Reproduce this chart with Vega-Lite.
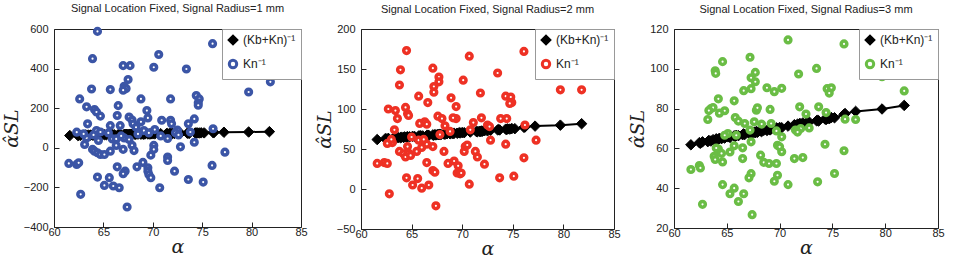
{
  "$schema": "https://vega.github.io/schema/vega-lite/v6.json",
  "background": "white",
  "padding": {"left": 1, "top": 2, "right": 5, "bottom": 2},
  "config": {
    "font": "Liberation Sans",
    "view": {"stroke": "#222", "strokeWidth": 1},
    "axis": {"labelFont": "Liberation Sans", "labelFontSize": 11, "labelColor": "#222", "tickColor": "#222", "domain": false, "grid": false, "tickSize": -5, "labelPadding": 4, "labelOverlap": false, "labelBound": false, "labelFlush": false, "tickCount": 12, "titleFont": "DejaVu Serif", "titleFontStyle": "italic", "titleFontWeight": "normal", "titleFontSize": 19, "titleColor": "#222", "titlePadding": 0},
    "title": {"font": "Liberation Sans", "fontSize": 11, "fontWeight": "normal", "color": "#222", "offset": 8},
    "legend": {"orient": "top-right", "offset": 0, "fillColor": "white", "strokeColor": "#999", "padding": 5, "labelFont": "Liberation Sans", "labelFontSize": 12, "labelColor": "#222", "symbolSize": 55, "symbolStrokeWidth": 3, "rowPadding": 4, "symbolOpacity": 1}
  },
  "datasets": {
    "dia": [
      {"a":61.6,"v":61.8},{"a":62.4,"v":62.9},{"a":62.5,"v":62.6},{"a":62.7,"v":63.3},{"a":63.2,"v":63.4},{"a":63.3,"v":64.0},{"a":63.5,"v":63.7},{"a":63.7,"v":64.4},{"a":63.9,"v":64.1},{"a":64.0,"v":64.8},{"a":64.2,"v":64.5},{"a":64.3,"v":65.1},{"a":64.5,"v":64.9},{"a":64.6,"v":65.4},{"a":64.8,"v":65.2},{"a":65.1,"v":65.8},{"a":65.3,"v":65.5},{"a":65.7,"v":66.3},{"a":65.8,"v":66.0},{"a":65.9,"v":66.6},{"a":66.1,"v":66.4},{"a":66.5,"v":66.9},{"a":66.6,"v":67.3},{"a":66.7,"v":67.0},{"a":67.1,"v":67.6},{"a":67.2,"v":67.3},{"a":67.3,"v":67.9},{"a":67.4,"v":67.6},{"a":67.6,"v":68.2},{"a":67.7,"v":67.9},{"a":67.8,"v":68.5},{"a":67.9,"v":68.1},{"a":68.2,"v":68.8},{"a":68.3,"v":68.5},{"a":68.5,"v":69.1},{"a":68.8,"v":69.0},{"a":69.0,"v":69.6},{"a":69.1,"v":69.3},{"a":69.2,"v":69.8},{"a":69.5,"v":69.7},{"a":69.7,"v":70.3},{"a":69.8,"v":70.0},{"a":70.0,"v":70.5},{"a":70.2,"v":70.4},{"a":70.8,"v":71.2},{"a":71.4,"v":71.9},{"a":71.5,"v":71.6},{"a":71.7,"v":72.2},{"a":71.8,"v":72.0},{"a":71.9,"v":72.5},{"a":72.0,"v":72.3},{"a":72.2,"v":72.8},{"a":72.5,"v":72.7},{"a":72.8,"v":73.3},{"a":73.5,"v":73.9},{"a":73.6,"v":74.2},{"a":73.7,"v":73.8},{"a":74.3,"v":74.8},{"a":74.4,"v":74.5},{"a":74.5,"v":75.1},{"a":74.7,"v":74.9},{"a":74.9,"v":75.5},{"a":75.2,"v":75.4},{"a":76.1,"v":77.1},{"a":76.2,"v":77.5},{"a":77.2,"v":78.6},{"a":79.7,"v":79.8},{"a":81.8,"v":81.6}
    ],
    "blue": [
      {"a":64.4,"v":588},{"a":76.05,"v":526},{"a":63.9,"v":450},{"a":70.6,"v":471},{"a":67.0,"v":415},{"a":67.7,"v":415},{"a":70.1,"v":407},{"a":73.4,"v":398},{"a":67.5,"v":345},{"a":67.1,"v":311},{"a":67.3,"v":299},{"a":67.0,"v":291},{"a":63.8,"v":297},{"a":65.7,"v":294},{"a":79.7,"v":282},{"a":81.9,"v":333},{"a":62.6,"v":247},{"a":68.8,"v":247},{"a":71.8,"v":247},{"a":74.4,"v":264},{"a":74.7,"v":247},{"a":74.6,"v":227},{"a":74.6,"v":215},{"a":63.3,"v":207},{"a":64.1,"v":193},{"a":64.3,"v":181},{"a":66.5,"v":213},{"a":64.7,"v":160},{"a":69.4,"v":188},{"a":66.4,"v":163},{"a":67.6,"v":155},{"a":67.9,"v":140},{"a":69.5,"v":151},{"a":68.8,"v":131},{"a":68.0,"v":121},{"a":70.9,"v":139},{"a":71.8,"v":139},{"a":71.9,"v":121},{"a":74.2,"v":146},{"a":73.6,"v":121},{"a":63.4,"v":121},{"a":65.7,"v":112},{"a":66.7,"v":112},{"a":68.3,"v":104},{"a":64.3,"v":87},{"a":64.7,"v":80},{"a":62.3,"v":79},{"a":76.1,"v":96},{"a":69.1,"v":87},{"a":72.5,"v":89},{"a":72.3,"v":76},{"a":70.2,"v":92},{"a":63.3,"v":50},{"a":65.9,"v":45},{"a":66.3,"v":45},{"a":67.1,"v":50},{"a":67.6,"v":42},{"a":64.5,"v":37},{"a":71.5,"v":47},{"a":63.1,"v":17},{"a":63.9,"v":-8},{"a":64.1,"v":-17},{"a":64.4,"v":-25},{"a":64.7,"v":-34},{"a":65.1,"v":-34},{"a":65.7,"v":-17},{"a":66.3,"v":12},{"a":67.0,"v":-8},{"a":67.9,"v":13},{"a":68.1,"v":-14},{"a":70.1,"v":12},{"a":70.1,"v":-8},{"a":69.8,"v":-37},{"a":72.8,"v":5},{"a":74.2,"v":28},{"a":71.5,"v":-47},{"a":71.5,"v":-64},{"a":77.3,"v":-22},{"a":61.5,"v":-79},{"a":62.3,"v":-84},{"a":62.5,"v":-76},{"a":66.4,"v":-96},{"a":67.2,"v":-118},{"a":67.0,"v":-131},{"a":68.4,"v":-96},{"a":69.0,"v":-74},{"a":69.5,"v":-101},{"a":69.5,"v":-118},{"a":69.6,"v":-135},{"a":69.8,"v":-151},{"a":72.2,"v":-118},{"a":76.0,"v":-89},{"a":64.4,"v":-148},{"a":65.6,"v":-151},{"a":65.1,"v":-190},{"a":66.0,"v":-193},{"a":66.6,"v":-202},{"a":70.7,"v":-202},{"a":73.6,"v":-160},{"a":75.1,"v":-173},{"a":62.7,"v":-235},{"a":67.4,"v":-299},{"a":63.0,"v":70},{"a":64.0,"v":65},{"a":65.5,"v":75},{"a":66.8,"v":60},{"a":68.5,"v":70},{"a":69.6,"v":75},{"a":70.8,"v":60},{"a":72.6,"v":65},{"a":73.8,"v":80}
    ],
    "red": [
      {"a":64.5,"v":173},{"a":70.7,"v":166},{"a":76.1,"v":172},{"a":67.1,"v":151},{"a":63.9,"v":149},{"a":73.5,"v":145},{"a":70.1,"v":136},{"a":63.8,"v":130},{"a":67.7,"v":140},{"a":67.7,"v":134},{"a":67.2,"v":128},{"a":67.2,"v":121},{"a":71.8,"v":120},{"a":79.7,"v":124},{"a":81.8,"v":124},{"a":62.7,"v":100},{"a":63.4,"v":98},{"a":63.6,"v":88},{"a":64.4,"v":102},{"a":64.6,"v":94},{"a":64.7,"v":92},{"a":65.7,"v":116},{"a":66.6,"v":108},{"a":68.9,"v":114},{"a":69.4,"v":103},{"a":69.4,"v":88},{"a":69.1,"v":89},{"a":67.6,"v":91},{"a":68.0,"v":88},{"a":68.3,"v":79},{"a":65.8,"v":82},{"a":66.3,"v":84},{"a":66.5,"v":81},{"a":73.8,"v":88},{"a":74.4,"v":88},{"a":71.9,"v":89},{"a":71.1,"v":83},{"a":72.5,"v":80},{"a":74.3,"v":116},{"a":74.8,"v":115},{"a":74.9,"v":108},{"a":74.7,"v":107},{"a":76.2,"v":80},{"a":77.3,"v":61},{"a":63.3,"v":74},{"a":63.1,"v":58},{"a":62.6,"v":57},{"a":63.8,"v":47},{"a":64.6,"v":53},{"a":64.2,"v":44},{"a":64.7,"v":45},{"a":64.4,"v":40},{"a":64.9,"v":42},{"a":65.5,"v":47},{"a":66.0,"v":52},{"a":65.7,"v":61},{"a":66.5,"v":56},{"a":67.1,"v":53},{"a":68.2,"v":47},{"a":68.6,"v":32},{"a":69.2,"v":35},{"a":69.6,"v":29},{"a":69.5,"v":20},{"a":69.8,"v":19},{"a":69.9,"v":20},{"a":67.1,"v":23},{"a":67.3,"v":21},{"a":66.5,"v":33},{"a":70.2,"v":47},{"a":70.3,"v":53},{"a":70.5,"v":55},{"a":71.3,"v":47},{"a":71.5,"v":40},{"a":72.2,"v":31},{"a":72.8,"v":61},{"a":74.3,"v":56},{"a":76.1,"v":39},{"a":73.7,"v":14},{"a":75.1,"v":16},{"a":70.7,"v":6},{"a":64.5,"v":14},{"a":65.6,"v":13},{"a":65.1,"v":5},{"a":66.0,"v":1},{"a":66.7,"v":5},{"a":61.6,"v":32},{"a":62.3,"v":33},{"a":62.6,"v":32},{"a":62.8,"v":-6},{"a":67.4,"v":-21},{"a":63.0,"v":62},{"a":65.0,"v":65},{"a":66.2,"v":62},{"a":67.8,"v":68},{"a":68.8,"v":72},{"a":70.8,"v":74},{"a":72.7,"v":78}
    ],
    "green": [
      {"a":70.8,"v":114.5},{"a":76.1,"v":112.5},{"a":67.2,"v":105.8},{"a":64.6,"v":103.6},{"a":63.9,"v":99},{"a":63.95,"v":97.7},{"a":73.5,"v":100.2},{"a":71.8,"v":97.4},{"a":67.7,"v":98.2},{"a":67.3,"v":95.5},{"a":67.7,"v":93.5},{"a":68.8,"v":90.5},{"a":69.5,"v":88.5},{"a":70.2,"v":90.2},{"a":67.3,"v":90},{"a":66.6,"v":89},{"a":74.5,"v":90},{"a":74.9,"v":90.5},{"a":74.7,"v":87.8},{"a":64.2,"v":84.9},{"a":65.7,"v":83.9},{"a":71.9,"v":80.9},{"a":73.7,"v":80.9},{"a":63.5,"v":80},{"a":63.7,"v":80.5},{"a":63.3,"v":79},{"a":64.8,"v":78.9},{"a":67.8,"v":79.2},{"a":67.9,"v":80.4},{"a":69.1,"v":79.6},{"a":64.3,"v":77.7},{"a":74.4,"v":78},{"a":76.2,"v":74.7},{"a":77.2,"v":74.5},{"a":65.8,"v":75.5},{"a":66.1,"v":73.7},{"a":66.7,"v":72.5},{"a":67.6,"v":73.4},{"a":68.3,"v":72.2},{"a":69.2,"v":72.5},{"a":63.2,"v":74.5},{"a":72.5,"v":77.3},{"a":72.0,"v":70},{"a":72.8,"v":70.3},{"a":67.2,"v":69.2},{"a":71.5,"v":69.2},{"a":71.7,"v":68.2},{"a":65.1,"v":67.5},{"a":65.9,"v":66.6},{"a":64.8,"v":66.6},{"a":69.7,"v":68.8},{"a":70.2,"v":65.8},{"a":65.7,"v":61.3},{"a":66.5,"v":60.3},{"a":64.2,"v":59.7},{"a":64.0,"v":60.2},{"a":64.5,"v":57.5},{"a":63.8,"v":56},{"a":69.8,"v":61.6},{"a":70.2,"v":58.3},{"a":70.0,"v":60.8},{"a":74.3,"v":62.1},{"a":67.3,"v":63.3},{"a":76.1,"v":58.8},{"a":65.3,"v":58.2},{"a":64.6,"v":53.2},{"a":63.9,"v":54.4},{"a":66.5,"v":54.9},{"a":68.2,"v":56.6},{"a":68.5,"v":53},{"a":69.0,"v":52.4},{"a":69.7,"v":52.4},{"a":71.4,"v":54.9},{"a":72.2,"v":55.4},{"a":61.6,"v":49.4},{"a":62.4,"v":51.4},{"a":62.5,"v":50.2},{"a":69.8,"v":46.5},{"a":69.5,"v":43.5},{"a":67.3,"v":47.3},{"a":67.1,"v":45.2},{"a":70.8,"v":41.8},{"a":73.6,"v":43.2},{"a":75.2,"v":47.4},{"a":64.6,"v":41.8},{"a":65.7,"v":40},{"a":65.3,"v":37.2},{"a":66.1,"v":33.3},{"a":66.6,"v":37.2},{"a":62.7,"v":31.9},{"a":67.4,"v":26.7},{"a":79.7,"v":96},{"a":81.8,"v":88.9}
    ]
  },
  "hconcat": [
    {
      "width": 247, "height": 198,
      "title": "Signal Location Fixed, Signal Radius=1 mm",
      "layer": [
        {"data": {"name": "dia"}, "mark": {"type": "line", "color": "black", "strokeWidth": 2},
         "encoding": {"x": {"field": "a", "type": "quantitative", "scale": {"domain": [60, 85], "nice": false}, "axis": {"values": [60,65,70,75,80,85], "tickCount": 12, "title": "α"}},
                      "y": {"field": "v", "type": "quantitative", "scale": {"domain": [-400, 600], "nice": false}, "axis": {"values": [-400,-200,0,200,400,600], "tickCount": 12, "title": "α̂SL", "titlePadding": 2, "labelPadding": 11}},
                      "order": {"field": "a"}}},
        {"data": {"name": "dia"}, "mark": {"type": "point", "filled": true, "size": 110, "strokeWidth": 1, "opacity": 1},
         "encoding": {"x": {"field": "a", "type": "quantitative"}, "y": {"field": "v", "type": "quantitative"},
                      "shape": {"datum": "(Kb+Kn)⁻¹", "title": null, "scale": {"domain": ["(Kb+Kn)⁻¹", "Kn⁻¹"], "range": ["diamond", "circle"]}},
                      "fill": {"datum": "(Kb+Kn)⁻¹", "title": null, "scale": {"domain": ["(Kb+Kn)⁻¹", "Kn⁻¹"], "range": ["black", "white"]}},
                      "stroke": {"datum": "(Kb+Kn)⁻¹", "title": null, "scale": {"domain": ["(Kb+Kn)⁻¹", "Kn⁻¹"], "range": ["black", "#3b55a6"]}}}},
        {"data": {"name": "blue"}, "mark": {"type": "point", "filled": false, "size": 32, "strokeWidth": 3.5, "opacity": 1},
         "encoding": {"x": {"field": "a", "type": "quantitative"}, "y": {"field": "v", "type": "quantitative"},
                      "shape": {"datum": "Kn⁻¹", "title": null},
                      "fill": {"datum": "Kn⁻¹", "title": null},
                      "stroke": {"datum": "Kn⁻¹", "title": null}}}
      ]
    },
    {
      "width": 253, "height": 200,
      "title": "Signal Location Fixed, Signal Radius=2 mm",
      "layer": [
        {"data": {"name": "dia"}, "mark": {"type": "line", "color": "black", "strokeWidth": 2},
         "encoding": {"x": {"field": "a", "type": "quantitative", "scale": {"domain": [60, 85], "nice": false}, "axis": {"values": [60,65,70,75,80,85], "tickCount": 12, "title": "α"}},
                      "y": {"field": "v", "type": "quantitative", "scale": {"domain": [-50, 200], "nice": false}, "axis": {"values": [-50,0,50,100,150,200], "tickCount": 12, "title": "α̂SL", "titlePadding": 2, "labelPadding": 11}},
                      "order": {"field": "a"}}},
        {"data": {"name": "dia"}, "mark": {"type": "point", "filled": true, "size": 110, "strokeWidth": 1, "opacity": 1},
         "encoding": {"x": {"field": "a", "type": "quantitative"}, "y": {"field": "v", "type": "quantitative"},
                      "shape": {"datum": "(Kb+Kn)⁻¹", "title": null, "scale": {"domain": ["(Kb+Kn)⁻¹", "Kn⁻¹"], "range": ["diamond", "circle"]}},
                      "fill": {"datum": "(Kb+Kn)⁻¹", "title": null, "scale": {"domain": ["(Kb+Kn)⁻¹", "Kn⁻¹"], "range": ["black", "white"]}},
                      "stroke": {"datum": "(Kb+Kn)⁻¹", "title": null, "scale": {"domain": ["(Kb+Kn)⁻¹", "Kn⁻¹"], "range": ["black", "#ee3124"]}}}},
        {"data": {"name": "red"}, "mark": {"type": "point", "filled": false, "size": 32, "strokeWidth": 3.5, "opacity": 1},
         "encoding": {"x": {"field": "a", "type": "quantitative"}, "y": {"field": "v", "type": "quantitative"},
                      "shape": {"datum": "Kn⁻¹", "title": null},
                      "fill": {"datum": "Kn⁻¹", "title": null},
                      "stroke": {"datum": "Kn⁻¹", "title": null}}}
      ]
    },
    {
      "width": 264, "height": 199,
      "title": "Signal Location Fixed, Signal Radius=3 mm",
      "layer": [
        {"data": {"name": "dia"}, "mark": {"type": "line", "color": "black", "strokeWidth": 2},
         "encoding": {"x": {"field": "a", "type": "quantitative", "scale": {"domain": [60, 85], "nice": false}, "axis": {"values": [60,65,70,75,80,85], "tickCount": 12, "title": "α"}},
                      "y": {"field": "v", "type": "quantitative", "scale": {"domain": [20, 120], "nice": false}, "axis": {"values": [20,40,60,80,100,120], "tickCount": 12, "title": "α̂SL", "titlePadding": 2, "labelPadding": 11}},
                      "order": {"field": "a"}}},
        {"data": {"name": "dia"}, "mark": {"type": "point", "filled": true, "size": 110, "strokeWidth": 1, "opacity": 1},
         "encoding": {"x": {"field": "a", "type": "quantitative"}, "y": {"field": "v", "type": "quantitative"},
                      "shape": {"datum": "(Kb+Kn)⁻¹", "title": null, "scale": {"domain": ["(Kb+Kn)⁻¹", "Kn⁻¹"], "range": ["diamond", "circle"]}},
                      "fill": {"datum": "(Kb+Kn)⁻¹", "title": null, "scale": {"domain": ["(Kb+Kn)⁻¹", "Kn⁻¹"], "range": ["black", "white"]}},
                      "stroke": {"datum": "(Kb+Kn)⁻¹", "title": null, "scale": {"domain": ["(Kb+Kn)⁻¹", "Kn⁻¹"], "range": ["black", "#6abd45"]}}}},
        {"data": {"name": "green"}, "mark": {"type": "point", "filled": false, "size": 32, "strokeWidth": 3.5, "opacity": 1},
         "encoding": {"x": {"field": "a", "type": "quantitative"}, "y": {"field": "v", "type": "quantitative"},
                      "shape": {"datum": "Kn⁻¹", "title": null},
                      "fill": {"datum": "Kn⁻¹", "title": null},
                      "stroke": {"datum": "Kn⁻¹", "title": null}}}
      ]
    }
  ],
  "spacing": 60,
  "bounds": "flush",
  "resolve": {"scale": {"shape": "independent", "fill": "independent", "stroke": "independent"}, "legend": {"shape": "independent", "fill": "independent", "stroke": "independent"}}
}
